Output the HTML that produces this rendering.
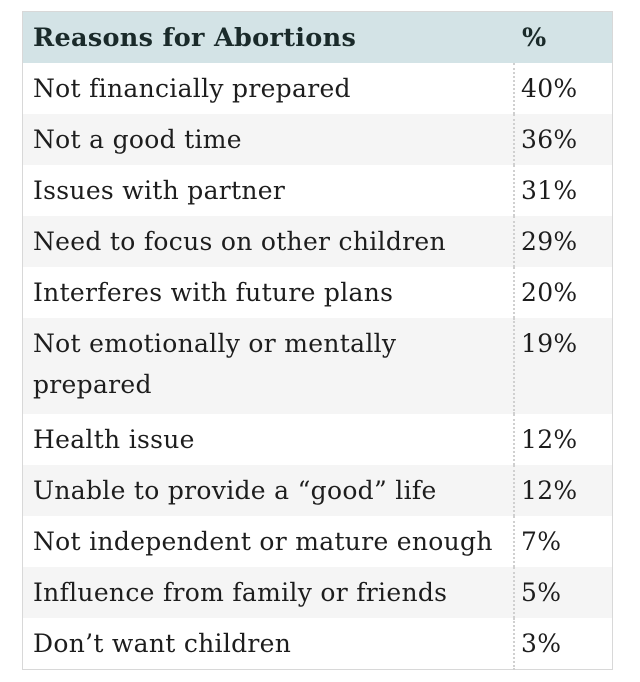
<!DOCTYPE html>
<html><head><style>
body{margin:0;background:#fff;width:640px;height:682px;overflow:hidden}
table{position:absolute;left:22px;top:11px;width:591px;border-collapse:collapse;border:1px solid #d8d8d8;font-family:"DejaVu Serif","Liberation Serif",serif;font-size:25px;letter-spacing:0.3px;color:#1d1d1d}
td,th{padding:0 0 0 10px;height:51px;text-align:left;vertical-align:middle;line-height:40px}
th{background:#d3e3e6;font-weight:bold;color:#1a2a2a;font-size:25.5px}
td:first-child,th:first-child{width:480px}
td:nth-child(2){border-left:2px dotted #d0d0d0;padding-left:6px}
tr:nth-child(odd) td{background:#f5f5f5}
tr.tall td{height:91px;vertical-align:top;padding-top:5px;line-height:41px}
</style></head><body>
<table>
<tr><th>Reasons for Abortions</th><th style="padding-left:8px">%</th></tr>
<tr><td>Not financially prepared</td><td>40%</td></tr>
<tr><td>Not a good time</td><td>36%</td></tr>
<tr><td>Issues with partner</td><td>31%</td></tr>
<tr><td>Need to focus on other children</td><td>29%</td></tr>
<tr><td>Interferes with future plans</td><td>20%</td></tr>
<tr class="tall"><td>Not emotionally or mentally<br>prepared</td><td>19%</td></tr>
<tr><td>Health issue</td><td>12%</td></tr>
<tr><td>Unable to provide a “good” life</td><td>12%</td></tr>
<tr><td>Not independent or mature enough</td><td>7%</td></tr>
<tr><td>Influence from family or friends</td><td>5%</td></tr>
<tr><td>Don’t want children</td><td>3%</td></tr>
</table>
</body></html>
